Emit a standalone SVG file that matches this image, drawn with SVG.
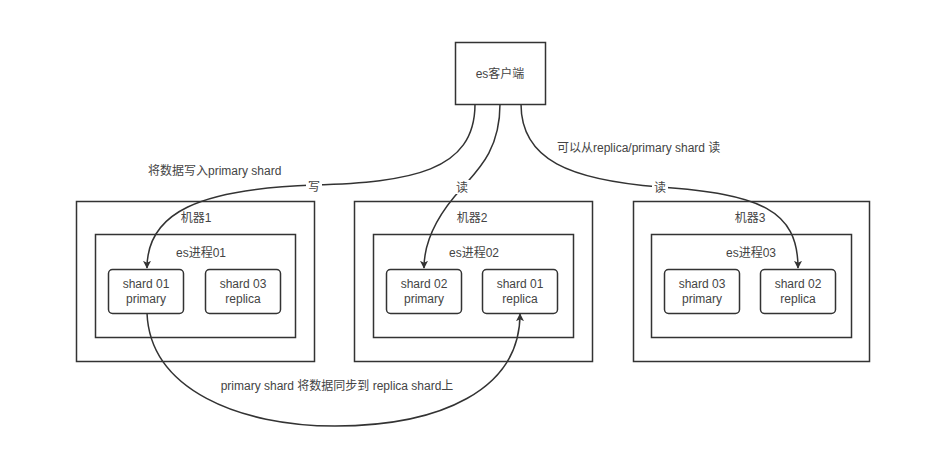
<svg xmlns="http://www.w3.org/2000/svg" width="931" height="450" viewBox="0 0 931 450">
<style>
.box{fill:#fff;stroke:#333;stroke-width:1.5}
.sh{fill:#fff;stroke:#333;stroke-width:1.5}
.t{font-family:"Liberation Sans","Noto Sans CJK SC",sans-serif;font-size:12px;fill:#444;text-anchor:middle}
.tl{font-family:"Liberation Sans","Noto Sans CJK SC",sans-serif;font-size:12px;fill:#444}
.c{fill:none;stroke:#333;stroke-width:1.5}
.lb{fill:#fff}
</style>
<defs>
<marker id="ah" viewBox="0 0 10 10" refX="9" refY="5" markerWidth="8" markerHeight="8" orient="auto" markerUnits="userSpaceOnUse">
<path d="M0,0 L10,5 L0,10 L2.5,5 Z" fill="#333"/>
</marker>
</defs>
<rect width="931" height="450" fill="#fff"/>
<g id="client">
<rect class="box" x="455.5" y="42.5" width="90" height="62"/>
<text class="t" x="500" y="78">es客户端</text>
</g>
<g id="machine1">
<rect class="box" x="76.5" y="201.5" width="238" height="160"/>
<text class="t" x="196" y="222">机器1</text>
<rect class="box" x="95.5" y="234.5" width="200" height="103"/>
<text class="t" x="201" y="257">es进程01</text>
<g id="m1s1"><rect class="sh" x="108.5" y="269.5" width="75" height="44" rx="4"/>
<text class="t" x="146" y="288">shard 01</text><text class="t" x="146" y="303">primary</text></g>
<g id="m1s2"><rect class="sh" x="205.5" y="269.5" width="75" height="44" rx="4"/>
<text class="t" x="243" y="288">shard 03</text><text class="t" x="243" y="303">replica</text></g>
</g>
<g id="machine2">
<rect class="box" x="354.5" y="201.5" width="238" height="160"/>
<text class="t" x="472" y="222">机器2</text>
<rect class="box" x="373.5" y="234.5" width="200" height="103"/>
<text class="t" x="474" y="257">es进程02</text>
<g id="m2s1"><rect class="sh" x="386.5" y="269.5" width="75" height="44" rx="4"/>
<text class="t" x="424" y="288">shard 02</text><text class="t" x="424" y="303">primary</text></g>
<g id="m2s2"><rect class="sh" x="482.5" y="269.5" width="75" height="44" rx="4"/>
<text class="t" x="520" y="288">shard 01</text><text class="t" x="520" y="303">replica</text></g>
</g>
<g id="machine3">
<rect class="box" x="633.5" y="201.5" width="236" height="160"/>
<text class="t" x="750" y="222">机器3</text>
<rect class="box" x="651.5" y="234.5" width="200" height="103"/>
<text class="t" x="751" y="257">es进程03</text>
<g id="m3s1"><rect class="sh" x="664.5" y="269.5" width="75" height="44" rx="4"/>
<text class="t" x="702" y="288">shard 03</text><text class="t" x="702" y="303">primary</text></g>
<g id="m3s2"><rect class="sh" x="760.5" y="269.5" width="75" height="44" rx="4"/>
<text class="t" x="798" y="288">shard 02</text><text class="t" x="798" y="303">replica</text></g>
</g>
<g id="connectors">
<path class="c" d="M475,104 C475,172 410,182 314,185 C200,189 147,212 147,268" marker-end="url(#ah)"/>
<rect class="lb" x="306" y="179" width="16" height="14"/>
<text class="t" x="314" y="191">写</text>
<path class="c" d="M500,104 C500,150 478,170 462,188 C438,214 424,240 424,268" marker-end="url(#ah)"/>
<rect class="lb" x="454" y="180" width="16" height="14"/>
<text class="t" x="462" y="192">读</text>
<path class="c" d="M521,104 C521,160 570,180 660,187 C760,194 798,210 798,268" marker-end="url(#ah)"/>
<rect class="lb" x="652" y="180" width="16" height="14"/>
<text class="t" x="660" y="192">读</text>
<path class="c" d="M147,313 C150,390 240,426 335,426 C440,426 520,390 520,314" marker-end="url(#ah)"/>
<text class="t" x="337" y="390">primary shard 将数据同步到 replica shard上</text>
<text class="tl" x="148" y="175">将数据写入primary shard</text>
<text class="tl" x="557" y="152">可以从replica/primary shard 读</text>
</g>
</svg>
